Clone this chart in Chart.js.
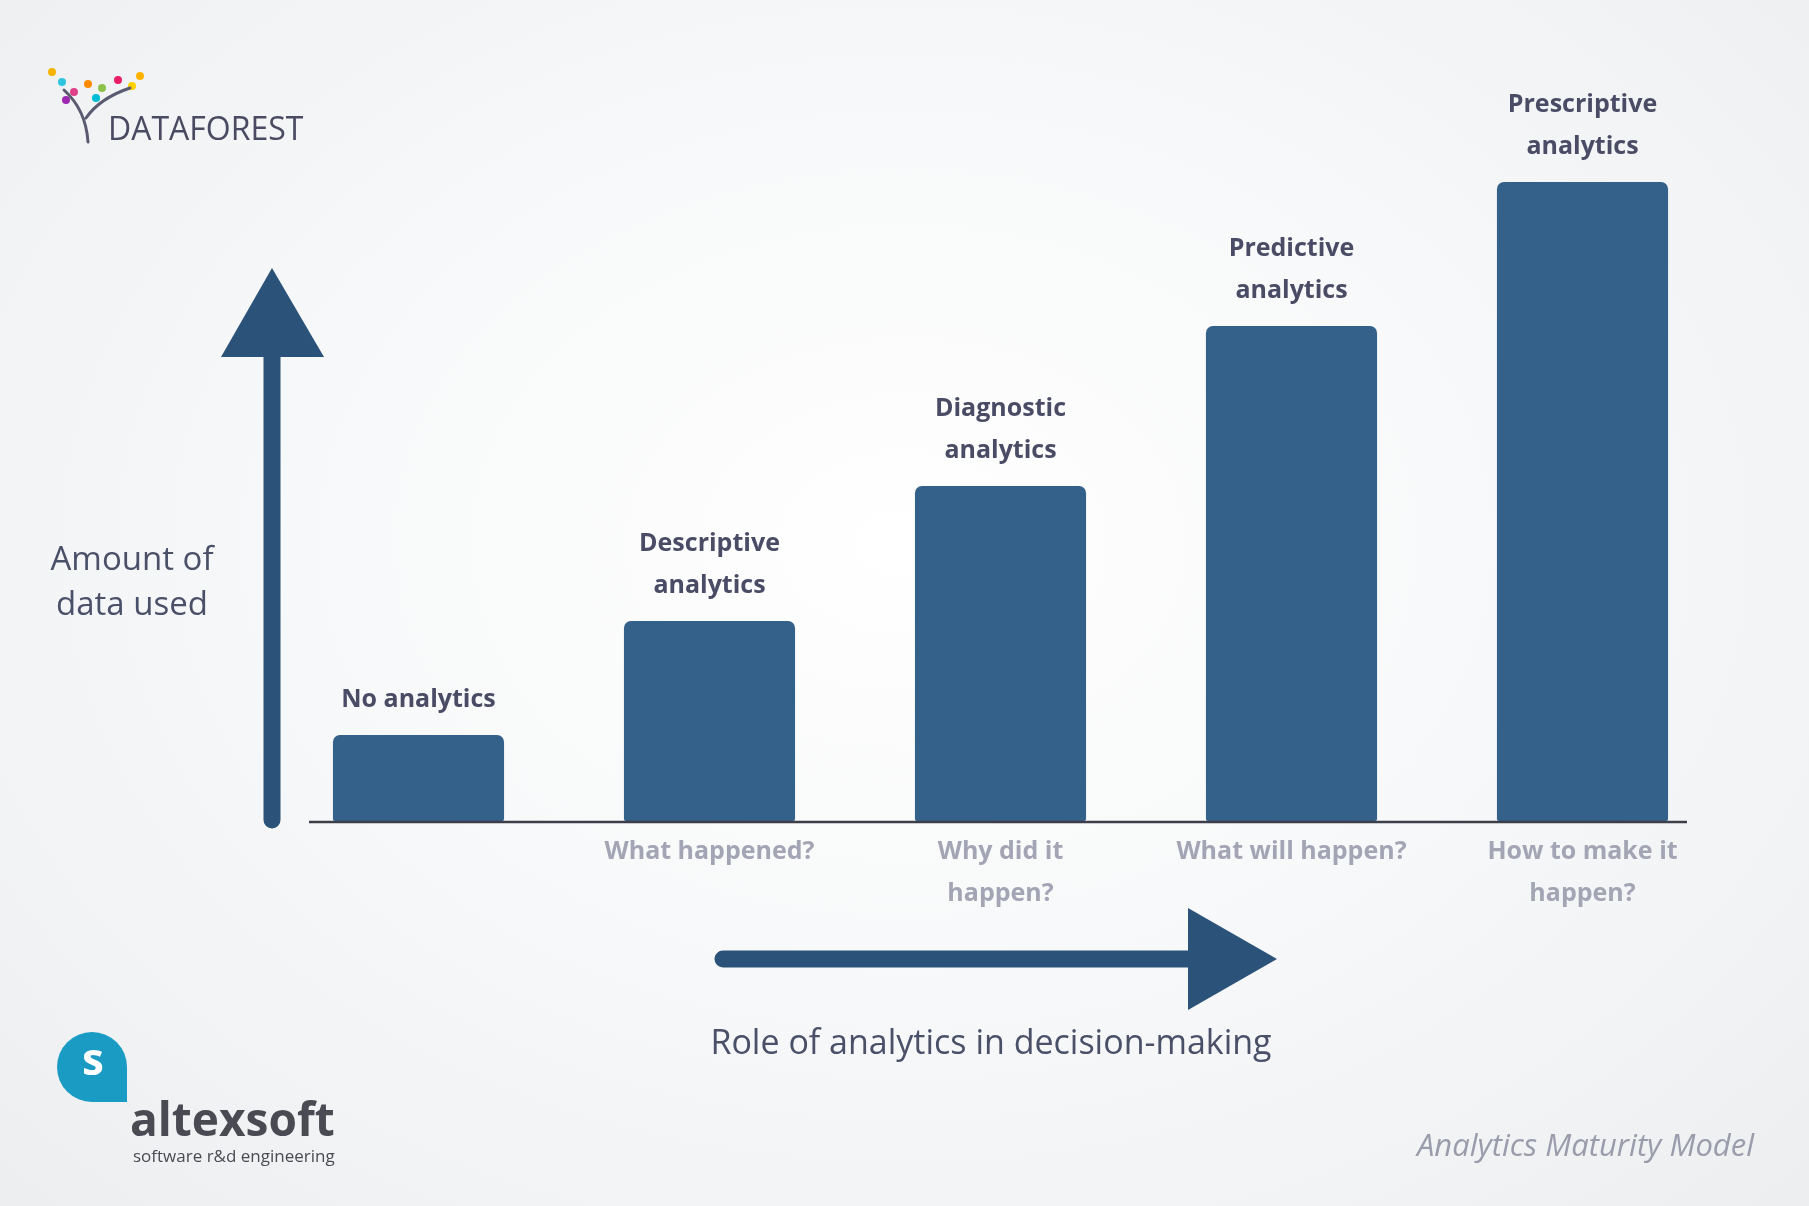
<!DOCTYPE html>
<html>
<head>
<meta charset="utf-8">
<script src="https://cdn.jsdelivr.net/npm/chart.js@4"></script>
<style>
  html, body { margin: 0; padding: 0; }
  body { background: radial-gradient(ellipse at 50% 45%, #ffffff 0%, #f6f7f8 55%, #eceef0 100%); width: 1809px; height: 1206px; }
  canvas { display: block; }
</style>
</head>
<body>
<canvas id="chart" width="1809" height="1206"></canvas>
<script>
var categories = ['No analytics', 'Descriptive analytics', 'Diagnostic analytics', 'Predictive analytics', 'Prescriptive analytics'];
var topLabels = [['No analytics'], ['Descriptive', 'analytics'], ['Diagnostic', 'analytics'], ['Predictive', 'analytics'], ['Prescriptive', 'analytics']];
var questionLabels = [[], ['What happened?'], ['Why did it', 'happen?'], ['What will happen?'], ['How to make it', 'happen?']];
var dataUsed = [86, 200, 335, 495, 639];

var FONT = '"Open Sans", "Noto Sans", sans-serif';

function arrowHead(ctx, pts) {
    ctx.beginPath();
    ctx.moveTo(pts[0][0], pts[0][1]);
    ctx.lineTo(pts[1][0], pts[1][1]);
    ctx.lineTo(pts[2][0], pts[2][1]);
    ctx.closePath();
    ctx.fill();
}

var decorations = {
    id: 'decorations',
    afterDatasetsDraw: function(chart) {
        var ctx = chart.ctx;
        var meta = chart.getDatasetMeta(0);
        var base = chart.scales.y.getPixelForValue(0);
        ctx.save();

        // baseline
        ctx.strokeStyle = '#3c3f4a';
        ctx.lineWidth = 2.5;
        ctx.beginPath();
        ctx.moveTo(309, base + 1);
        ctx.lineTo(1687, base + 1);
        ctx.stroke();

        ctx.textAlign = 'center';
        ctx.textBaseline = 'middle';
        meta.data.forEach(function(bar, i) {
            ctx.fillStyle = '#4a4c66';
            ctx.font = 'bold 25px ' + FONT;
            var lines = topLabels[i];
            for (var j = 0; j < lines.length; j++) {
                var y = bar.y - 35 - (lines.length - 1 - j) * 42;
                ctx.fillText(lines[j], bar.x, y);
            }
            ctx.fillStyle = '#a3a5b5';
            ctx.font = 'bold 25px ' + FONT;
            questionLabels[i].forEach(function(t, j) {
                ctx.fillText(t, bar.x, base + 31 + j * 42);
            });
        });

        // arrows
        ctx.fillStyle = '#2b5278';
        ctx.strokeStyle = '#2b5278';
        ctx.lineCap = 'round';
        ctx.lineWidth = 17;
        ctx.beginPath();
        ctx.moveTo(272, 820);
        ctx.lineTo(272, 350);
        ctx.stroke();
        arrowHead(ctx, [[272, 268], [221, 357], [324, 357]]);
        ctx.beginPath();
        ctx.moveTo(723, 959);
        ctx.lineTo(1195, 959);
        ctx.stroke();
        arrowHead(ctx, [[1277, 959], [1188, 908], [1188, 1010]]);

        // axis captions
        ctx.fillStyle = '#4a5068';
        ctx.font = '33px ' + FONT;
        ctx.fillText('Amount of', 132, 561);
        ctx.fillText('data used', 132, 606);
        ctx.font = '34px ' + FONT;
        ctx.fillText('Role of analytics in decision-making', 991, 1044);

        ctx.fillStyle = '#9a9cab';
        ctx.font = 'italic 31px ' + FONT;
        ctx.textAlign = 'right';
        ctx.fillText('Analytics Maturity Model', 1754, 1147);

        // logos
        ctx.textAlign = 'left';
        ctx.fillStyle = '#4a4a62';
        ctx.font = '32px ' + FONT;
        ctx.fillText('DATAFOREST', 108, 131);
        var dots = [[52, 72, '#f4b400'], [62, 82, '#2ec4e0'], [74, 92, '#e0408a'], [88, 84, '#ff8a00'], [102, 88, '#8bc34a'], [118, 80, '#e91e63'], [132, 86, '#ffd000'], [140, 76, '#ffb300'], [66, 100, '#9c27b0'], [96, 98, '#00bcd4']];
        dots.forEach(function(d) {
            ctx.fillStyle = d[2];
            ctx.beginPath();
            ctx.arc(d[0], d[1], 4, 0, Math.PI * 2);
            ctx.fill();
        });
        ctx.strokeStyle = '#5a5a70';
        ctx.lineWidth = 3;
        ctx.beginPath();
        ctx.moveTo(88, 142);
        ctx.quadraticCurveTo(86, 110, 64, 90);
        ctx.moveTo(86, 118);
        ctx.quadraticCurveTo(100, 98, 130, 88);
        ctx.stroke();

        ctx.fillStyle = '#1a9bc4';
        ctx.beginPath();
        ctx.arc(92, 1067, 35, Math.PI * 0.5, Math.PI * 2.0);
        ctx.lineTo(127, 1102);
        ctx.closePath();
        ctx.fill();
        ctx.fillStyle = '#ffffff';
        ctx.font = 'bold 44px ' + FONT;
        ctx.textAlign = 'center';
        ctx.fillText('s', 93, 1062);
        ctx.textAlign = 'left';
        ctx.fillStyle = '#4a4a52';
        ctx.font = 'bold 46px ' + FONT;
        ctx.fillText('altexsoft', 130, 1123);
        ctx.font = '17px ' + FONT;
        ctx.fillText('software r&d engineering', 133, 1157);

        ctx.restore();
    }
};

window.onload = function() {
    var ctx = document.getElementById('chart');
    new Chart(ctx, {
        type: 'bar',
        data: {
            labels: categories,
            datasets: [{
                data: dataUsed,
                backgroundColor: '#33618a',
                borderRadius: { topLeft: 7, topRight: 7, bottomLeft: 2, bottomRight: 2 },
                borderSkipped: false,
                categoryPercentage: 1,
                barPercentage: 0.588
            }]
        },
        options: {
            responsive: false,
            animation: false,
            devicePixelRatio: 1,
            layout: { padding: { left: 273, right: 81, top: 121, bottom: 385 } },
            plugins: { legend: { display: false }, tooltip: { enabled: false } },
            scales: {
                x: { display: false },
                y: { display: false, min: 0, max: 700 }
            }
        },
        plugins: [decorations]
    });
};
</script>
</body>
</html>
